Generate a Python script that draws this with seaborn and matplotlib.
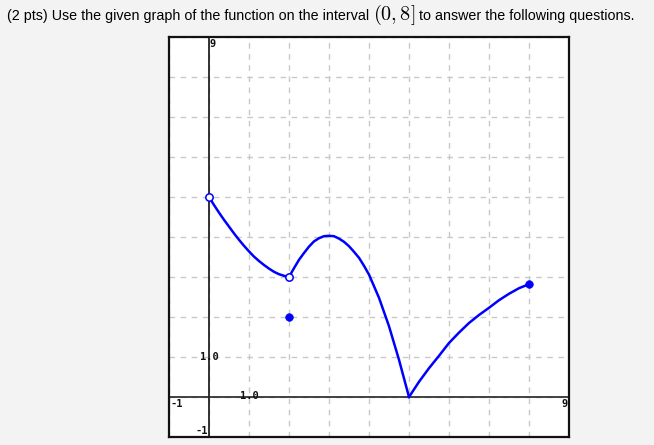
import matplotlib
matplotlib.use("Agg")
import matplotlib.pyplot as plt
import seaborn as sns
import pandas as pd

# --- data ---
seg1_x = [0, 0.125, 0.25, 0.375, 0.5, 0.625, 0.75, 0.875, 1.0, 1.125, 1.25, 1.375, 1.5, 1.625, 1.75, 1.875, 2.0]
seg1_y = [5.0, 4.80, 4.61, 4.43, 4.26, 4.09, 3.93, 3.78, 3.64, 3.51, 3.40, 3.30, 3.21, 3.13, 3.07, 3.03, 3.0]
seg2_x = [2.0, 2.125, 2.25, 2.375, 2.5, 2.625, 2.75, 2.875, 3.0, 3.125, 3.25, 3.375, 3.5, 3.625, 3.75, 3.875,
          4.0, 4.25, 4.5, 4.75, 5.0]
seg2_y = [3.0, 3.22, 3.43, 3.6, 3.76, 3.89, 3.97, 4.02, 4.03, 4.02, 3.96, 3.88, 3.77, 3.63, 3.48, 3.28,
          3.06, 2.48, 1.77, 0.93, 0.0]
seg3_x = [5.0, 5.25, 5.5, 5.75, 6.0, 6.25, 6.5, 6.75, 7.0, 7.25, 7.5, 7.75, 8.0]
seg3_y = [0.0, 0.38, 0.72, 1.03, 1.35, 1.61, 1.85, 2.05, 2.23, 2.42, 2.58, 2.72, 2.82]
open_x = [0, 2]
open_y = [5, 3]
closed_x = [2, 8]
closed_y = [2, 2.82]
x_min, x_max = -1, 9
y_min, y_max = -1, 9
title_left = "(2 pts) Use the given graph of the function on the interval "
title_math = r"$(0,8]$"
title_right = " to answer the following questions."

W, H, DPI = 654, 445, 100
fig = plt.figure(figsize=(W / DPI, H / DPI), dpi=DPI)
fig.patch.set_facecolor("#f3f3f3")
ax = fig.add_axes([169 / W, 1 - 437 / H, 400 / W, 400 / H])
ax.set_facecolor("white")

blue = "#0000ff"
for sx, sy in [(seg1_x, seg1_y), (seg2_x, seg2_y), (seg3_x, seg3_y)]:
    df = pd.DataFrame({"x": sx, "y": sy})
    sns.lineplot(data=df, x="x", y="y", sort=False, color=blue, linewidth=1.8, ax=ax, zorder=3)
for line in ax.get_lines():
    line.set_solid_joinstyle("round")

sns.scatterplot(x=open_x, y=open_y, ax=ax, s=28, facecolor="white", edgecolor=blue,
                linewidth=1.1, zorder=5)
sns.scatterplot(x=closed_x, y=closed_y, ax=ax, s=30, color=blue, edgecolor=blue,
                linewidth=0.5, zorder=5)

ax.set_xlim(x_min, x_max)
ax.set_ylim(y_min, y_max)
ax.set_xticks(range(x_min, x_max + 1))
ax.set_yticks(range(y_min, y_max + 1))
ax.tick_params(length=0, labelbottom=False, labelleft=False)
ax.grid(True, color="#c8c8c8", linestyle=(0, (4, 4)), linewidth=1.0)
ax.set_axisbelow(True)
ax.set_xlabel("")
ax.set_ylabel("")
for s in ax.spines.values():
    s.set_color("#111111")
    s.set_linewidth(1.6)
ax.axhline(0, color="#333333", linewidth=1.3, zorder=2)
ax.axvline(0, color="#222222", linewidth=1.3, zorder=2)

lab = dict(fontsize=7.5, fontweight="bold", family="DejaVu Sans Mono", color="#111111", zorder=6)
ax.text(0.02, 8.95, "9", ha="left", va="top", **lab)
ax.text(0, 1, "1.0", ha="center", va="center", **lab)
ax.text(1, 0.02, "1.0", ha="center", va="center", **lab)
ax.text(-0.97, -0.05, "-1", ha="left", va="top", **lab)
ax.text(8.97, -0.05, "9", ha="right", va="top", **lab)
ax.text(-0.02, -0.97, "-1", ha="right", va="bottom", **lab)

# title in three parts
plt.rcParams["mathtext.fontset"] = "cm"
renderer = fig.canvas.get_renderer()
ty = 1 - 20 / H
t1 = fig.text(7 / W, ty, title_left, fontsize=10.3, family="Liberation Sans", va="baseline")
bb = t1.get_window_extent(renderer)
t2 = fig.text(bb.x1 / W, ty, title_math, fontsize=14.5, va="baseline")
bb2 = t2.get_window_extent(renderer)
t3 = fig.text(bb2.x1 / W, ty, title_right, fontsize=10.3, family="Liberation Sans", va="baseline")

fig.savefig("out.png", dpi=DPI, facecolor=fig.get_facecolor())
